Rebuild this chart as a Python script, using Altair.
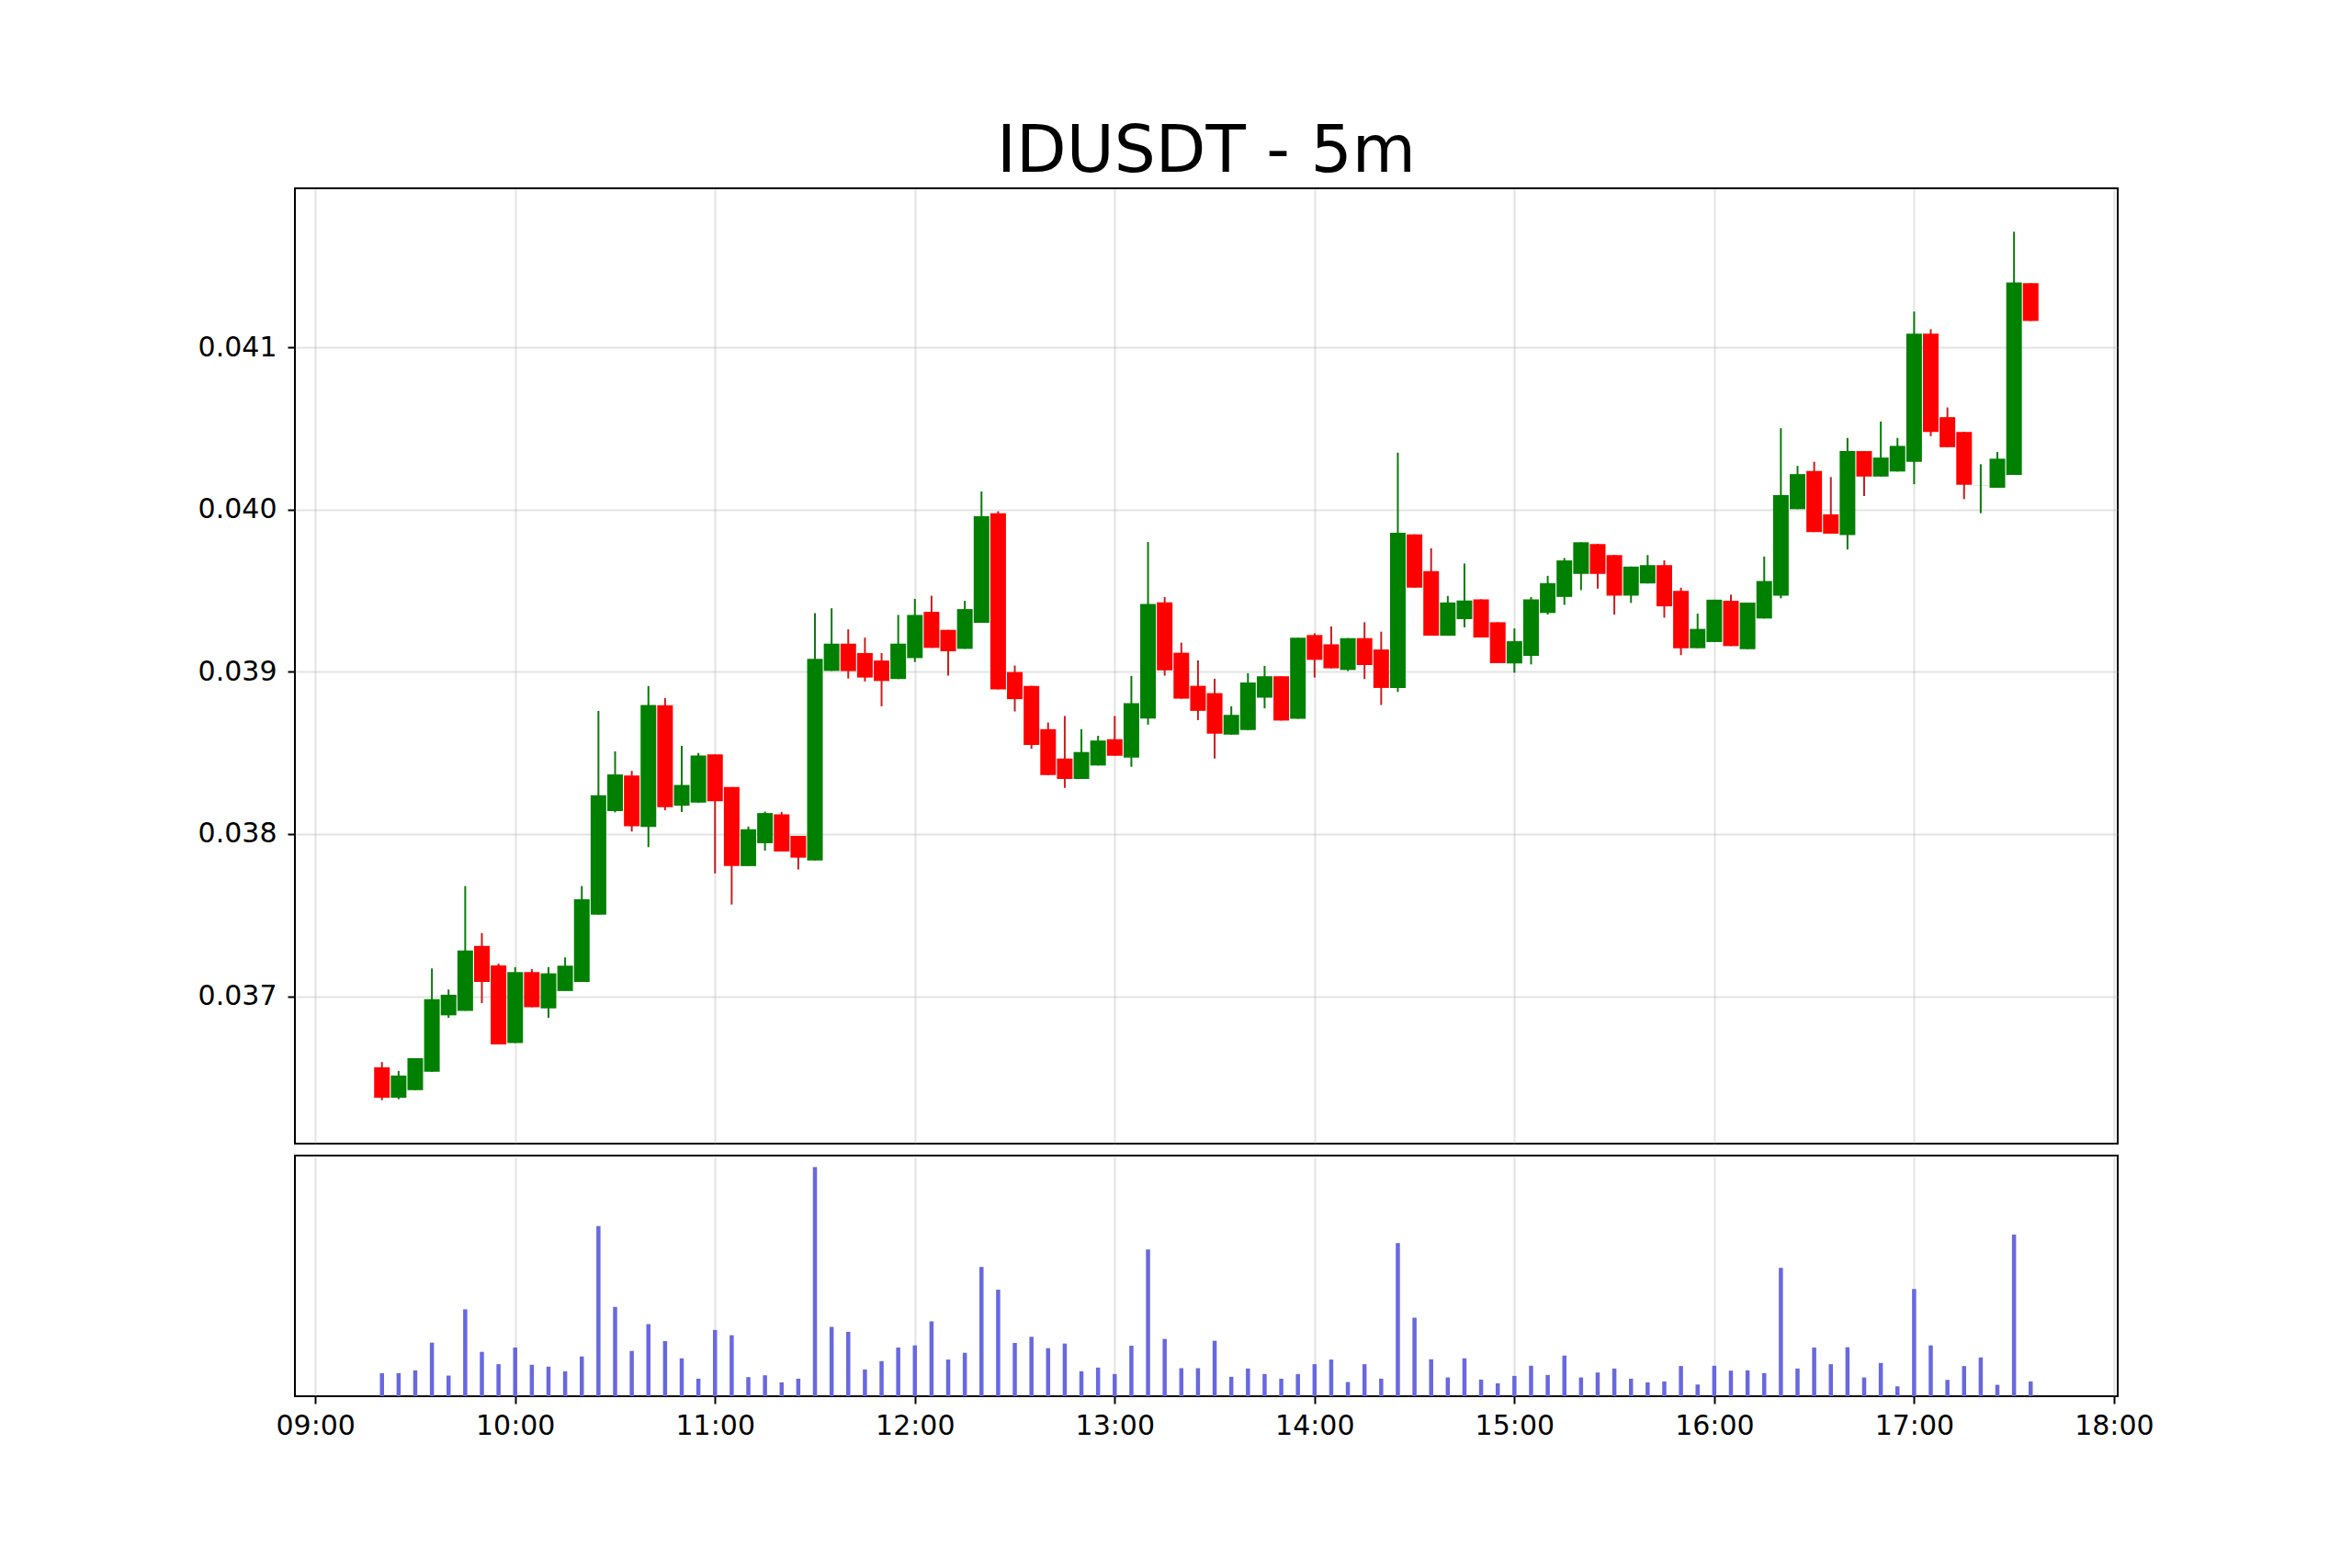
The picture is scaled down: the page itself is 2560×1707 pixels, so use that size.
import altair as alt
import pandas as pd

times = ("09:20 09:25 09:30 09:35 09:40 09:45 09:50 09:55 "
         "10:00 10:05 10:10 10:15 10:20 10:25 10:30 10:35 10:40 10:45 10:50 10:55 "
         "11:00 11:05 11:10 11:15 11:20 11:25 11:30 11:35 11:40 11:45 11:50 11:55 "
         "12:00 12:05 12:10 12:15 12:20 12:25 12:30 12:35 12:40 12:45 12:50 12:55 "
         "13:00 13:05 13:10 13:15 13:20 13:25 13:30 13:35 13:40 13:45 13:50 13:55 "
         "14:00 14:05 14:10 14:15 14:20 14:25 14:30 14:35 14:40 14:45 14:50 14:55 "
         "15:00 15:05 15:10 15:15 15:20 15:25 15:30 15:35 15:40 15:45 15:50 15:55 "
         "16:00 16:05 16:10 16:15 16:20 16:25 16:30 16:35 16:40 16:45 16:50 16:55 "
         "17:00 17:05 17:10 17:15 17:20 17:25 17:30 17:35").split()

opens = [0.036562, 0.036374, 0.036421, 0.036534, 0.036882, 0.036910, 0.037310, 0.037190, 0.036712, 0.037148,
         0.036925, 0.037032, 0.037088, 0.037502, 0.038141, 0.038361, 0.038043, 0.038793, 0.038174, 0.038193,
         0.038490, 0.038289, 0.037802, 0.037943, 0.038121, 0.037988, 0.037837, 0.039005, 0.039173, 0.039115,
         0.039069, 0.038955, 0.039084, 0.039369, 0.039258, 0.039141, 0.039301, 0.039977, 0.038998, 0.038913,
         0.038646, 0.038465, 0.038339, 0.038422, 0.038584, 0.038471, 0.038712, 0.039427, 0.039117, 0.038913,
         0.038868, 0.038612, 0.038640, 0.038840, 0.038972, 0.038710, 0.039226, 0.039169, 0.039011, 0.039207,
         0.039137, 0.038900, 0.039847, 0.039620, 0.039222, 0.039324, 0.039446, 0.039305, 0.039051, 0.039098,
         0.039362, 0.039461, 0.039603, 0.039787, 0.039719, 0.039469, 0.039544, 0.039657, 0.039499, 0.039145,
         0.039183, 0.039437, 0.039139, 0.039328, 0.039469, 0.040002, 0.040237, 0.039970, 0.039842, 0.040360,
         0.040203, 0.040234, 0.040294, 0.041083, 0.040569, 0.040478, 0.040150, 0.040134, 0.040213, 0.041395]

highs = [0.036594, 0.036539, 0.036618, 0.037171, 0.037041, 0.037679, 0.037389, 0.037201, 0.037179, 0.037167,
         0.037179, 0.037239, 0.037679, 0.038758, 0.038509, 0.038389, 0.038912, 0.038838, 0.038543, 0.038499,
         0.038490, 0.038289, 0.038046, 0.038138, 0.038136, 0.037988, 0.039361, 0.039391, 0.039261, 0.039210,
         0.039115, 0.039350, 0.039449, 0.039468, 0.039258, 0.039437, 0.040111, 0.039989, 0.039038, 0.038913,
         0.038687, 0.038727, 0.038646, 0.038605, 0.038727, 0.038974, 0.039800, 0.039460, 0.039179, 0.039070,
         0.038957, 0.038787, 0.038991, 0.039036, 0.038972, 0.039209, 0.039237, 0.039279, 0.039207, 0.039305,
         0.039247, 0.040350, 0.039847, 0.039761, 0.039467, 0.039667, 0.039446, 0.039305, 0.039267, 0.039460,
         0.039591, 0.039701, 0.039798, 0.039787, 0.039719, 0.039648, 0.039719, 0.039686, 0.039518, 0.039358,
         0.039444, 0.039475, 0.039426, 0.039710, 0.040501, 0.040269, 0.040294, 0.040200, 0.040441, 0.040360,
         0.040542, 0.040441, 0.041220, 0.041111, 0.040629, 0.040478, 0.040279, 0.040354, 0.041712, 0.041395]

lows = [0.036359, 0.036365, 0.036421, 0.036534, 0.036867, 0.036910, 0.036957, 0.036703, 0.036712, 0.036932,
        0.036867, 0.037032, 0.037088, 0.037502, 0.038133, 0.038015, 0.037919, 0.038146, 0.038136, 0.038193,
        0.037757, 0.037565, 0.037802, 0.037897, 0.037892, 0.037781, 0.037837, 0.039005, 0.038958, 0.038940,
        0.038787, 0.038955, 0.039060, 0.039147, 0.038976, 0.039141, 0.039301, 0.038891, 0.038755, 0.038525,
        0.038363, 0.038284, 0.038339, 0.038422, 0.038482, 0.038414, 0.038674, 0.038976, 0.038834, 0.038702,
        0.038465, 0.038612, 0.038640, 0.038774, 0.038699, 0.038710, 0.038964, 0.039021, 0.039004, 0.038955,
        0.038795, 0.038876, 0.039518, 0.039222, 0.039222, 0.039273, 0.039211, 0.039053, 0.038994, 0.039045,
        0.039352, 0.039412, 0.039503, 0.039512, 0.039352, 0.039424, 0.039544, 0.039333, 0.039102, 0.039145,
        0.039183, 0.039158, 0.039139, 0.039328, 0.039452, 0.040002, 0.039861, 0.039851, 0.039753, 0.040083,
        0.040203, 0.040234, 0.040156, 0.040452, 0.040384, 0.040064, 0.039977, 0.040134, 0.040213, 0.041162]

closes = [0.036374, 0.036511, 0.036618, 0.036981, 0.037009, 0.037282, 0.037088, 0.036703, 0.037148, 0.036932,
          0.037141, 0.037188, 0.037598, 0.038239, 0.038367, 0.038047, 0.038795, 0.038165, 0.038302, 0.038483,
          0.038202, 0.037802, 0.038029, 0.038129, 0.037892, 0.037854, 0.039079, 0.039173, 0.039004, 0.038964,
          0.038943, 0.039173, 0.039350, 0.039147, 0.039126, 0.039386, 0.039959, 0.038891, 0.038831, 0.038548,
          0.038363, 0.038339, 0.038505, 0.038576, 0.038482, 0.038806, 0.039418, 0.039009, 0.038834, 0.038759,
          0.038618, 0.038734, 0.038934, 0.038972, 0.038699, 0.039209, 0.039073, 0.039021, 0.039207, 0.039041,
          0.038900, 0.039857, 0.039518, 0.039222, 0.039427, 0.039439, 0.039211, 0.039053, 0.039188, 0.039446,
          0.039546, 0.039686, 0.039798, 0.039603, 0.039469, 0.039648, 0.039657, 0.039403, 0.039145, 0.039264,
          0.039444, 0.039158, 0.039426, 0.039559, 0.040089, 0.040218, 0.039861, 0.039851, 0.040360, 0.040203,
          0.040320, 0.040392, 0.041083, 0.040478, 0.040384, 0.040153, 0.040151, 0.040313, 0.041399, 0.041162]

volumes = [75, 75, 84, 174, 67, 282, 144, 104, 158, 102,
           96, 81, 129, 552, 290, 147, 234, 179, 123, 57,
           215, 198, 62, 68, 45, 57, 744, 225, 209, 87,
           114, 158, 165, 243, 119, 141, 420, 346, 173, 193,
           156, 171, 81, 93, 72, 164, 476, 186, 91, 91,
           180, 63, 90, 72, 57, 72, 104, 119, 46, 104,
           57, 497, 255, 120, 61, 123, 54, 42, 66, 99,
           69, 132, 61, 77, 90, 57, 45, 48, 98, 38,
           99, 83, 84, 75, 417, 90, 158, 104, 159, 61,
           108, 32, 348, 165, 53, 98, 126, 37, 525, 48]

y_ticks = [0.037, 0.038, 0.039, 0.040, 0.041]

df = pd.DataFrame({
    "t": ["2024-01-01T" + s + ":00" for s in times],
    "open": opens, "high": highs, "low": lows, "close": closes,
    "volume": volumes,
})
df["dir"] = ["up" if c >= o else "down" for o, c in zip(opens, closes)]

lo, hi = min(lows), max(highs)
ypad = 0.05 * (hi - lo)
ydom = [lo - ypad, hi + ypad]


def dt(h, m=0, s=0):
    return alt.DateTime(year=2024, month=1, date=1, hours=h, minutes=m, seconds=s)


xdom = [dt(8, 55, 15), dt(17, 59, 45)]
hour_ticks = [dt(h) for h in range(9, 19)]

FONT = "DejaVu Sans"
EXT = 312

xs = alt.Scale(domain=xdom)
ys = alt.Scale(domain=ydom, nice=False, zero=False)

base = alt.Chart(df)

wick = base.mark_rule(strokeWidth=2).encode(
    x=alt.X("t:T", scale=xs,
            axis=alt.Axis(values=hour_ticks, grid=True, labels=False, ticks=False,
                          domain=False, title=None)),
    y=alt.Y("low:Q", scale=ys,
            axis=alt.Axis(values=y_ticks, format=".3f", title=None, grid=True,
                          domain=False, tickSize=8, tickWidth=2, tickColor="black",
                          labelFontSize=30, labelPadding=12, labelColor="black",
                          labelFont=FONT, minExtent=EXT, maxExtent=EXT)),
    y2="high:Q",
    color=alt.Color("dir:N", scale=alt.Scale(domain=["up", "down"], range=["#0a7a0a", "#c81e1e"]),
                    legend=None),
)

body = base.mark_bar(size=17).encode(
    x=alt.X("t:T", scale=xs),
    y=alt.Y("open:Q", scale=ys),
    y2="close:Q",
    color=alt.Color("dir:N", scale=alt.Scale(domain=["up", "down"], range=["#008000", "#ff0000"]),
                    legend=None),
)

main = alt.layer(wick, body).resolve_scale(color="independent").properties(
    width=1984, height=1040,
    title=alt.TitleParams("IDUSDT - 5m", fontSize=71, font=FONT, fontWeight="normal",
                          color="black", anchor="middle", frame="group",
                          baseline="alphabetic", offset=-53),
)

vol = alt.Chart(df).mark_bar(size=4.5, color="#6868e0").encode(
    x=alt.X("t:T", scale=xs,
            axis=alt.Axis(values=hour_ticks, format="%H:%M", grid=True, title=None,
                          domain=False, tickSize=8, tickWidth=2, tickColor="black",
                          labelFontSize=30, labelPadding=9, labelColor="black",
                          labelFont=FONT, labelFlush=False, labelOverlap=False)),
    y=alt.Y("volume:Q", scale=alt.Scale(domain=[0, max(volumes) * 1.05], nice=False),
            axis=alt.Axis(labels=False, ticks=False, domain=False, grid=False, title=None,
                          minExtent=EXT, maxExtent=EXT)),
).properties(width=1984, height=262)

chart = alt.vconcat(main, vol, spacing=11).properties(
    padding={"left": 0, "top": 121, "right": 20, "bottom": 20},
    background="white",
).configure(font=FONT).configure_view(
    stroke="black", strokeWidth=2
).configure_axis(
    gridColor="#b0b0b0", gridOpacity=0.35, gridWidth=2
)

chart.save("out.html", embed_options={"renderer": "svg", "actions": False})
